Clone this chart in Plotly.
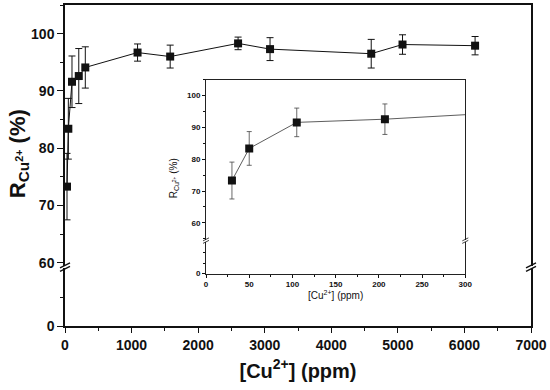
import plotly.graph_objects as go

# ---- data ----
conc = [30, 50, 105, 207, 305, 1090, 1580, 2600, 3080, 4600, 5070, 6160]
removal = [73.3, 83.4, 91.6, 92.6, 94.1, 96.7, 96.0, 98.3, 97.3, 96.5, 98.1, 97.9]
err = [5.8, 5.3, 4.5, 4.8, 3.6, 1.5, 2.0, 1.1, 2.0, 2.5, 1.7, 1.6]

main_xticks = [0, 1000, 2000, 3000, 4000, 5000, 6000, 7000]
main_yticks = [60, 70, 80, 90, 100]
inset_xticks = [0, 50, 100, 150, 200, 250, 300]
inset_yticks = [60, 70, 80, 90, 100]

FONT = "Arial, Liberation Sans, sans-serif"
BLACK = "#111111"

fig = go.Figure()

# empty traces so the lower (broken-off) axis segments are drawn
for xa, ya in (("x", "y"), ("x2", "y2"), ("x3", "y4"), ("x4", "y3")):
    fig.add_trace(go.Scatter(x=[None], y=[None], xaxis=xa, yaxis=ya, mode="markers",
                             showlegend=False, hoverinfo="skip"))

# main series
fig.add_trace(go.Scatter(
    x=conc, y=removal, xaxis="x", yaxis="y2", mode="lines+markers",
    line=dict(color=BLACK, width=1),
    marker=dict(symbol="square", size=8, color=BLACK),
    error_y=dict(type="data", array=err, visible=True, color=BLACK, thickness=1, width=3.5),
    showlegend=False, hoverinfo="x+y",
))
# inset series
fig.add_trace(go.Scatter(
    x=conc, y=removal, xaxis="x3", yaxis="y3", mode="lines+markers",
    line=dict(color="#333333", width=0.8),
    marker=dict(symbol="square", size=8, color=BLACK),
    error_y=dict(type="data", array=err, visible=True, color="#444444", thickness=0.8, width=2.5),
    showlegend=False, hoverinfo="x+y", cliponaxis=True,
))

tick_main = dict(family=FONT, size=14, color=BLACK, weight="bold")
tick_inset = dict(family=FONT, size=8, color=BLACK, weight="bold")

fig.update_layout(
    width=550, height=390,
    margin=dict(l=65, r=19, t=5, b=64, autoexpand=False),
    paper_bgcolor="white", plot_bgcolor="white",
    xaxis=dict(
        domain=[0, 1], anchor="y", range=[0, 7000],
        tickvals=main_xticks, ticks="outside", ticklen=5, tickwidth=1.3, tickcolor=BLACK,
        minor=dict(dtick=500, ticks="outside", ticklen=3, tickcolor=BLACK),
        showline=True, linecolor=BLACK, linewidth=1.5, showgrid=False, zeroline=False,
        tickfont=tick_main, automargin=False,
        title=dict(text="[Cu<sup>2+</sup>] (ppm)", font=dict(family=FONT, size=20, color=BLACK, weight="bold"), standoff=12),
    ),
    xaxis2=dict(
        domain=[0, 1], anchor="y2", side="top", matches="x", overlaying="x",
        showline=True, linecolor=BLACK, linewidth=1.5, ticks="", showticklabels=False,
        showgrid=False, zeroline=False, automargin=False,
    ),
    yaxis=dict(
        domain=[0, 0.180], anchor="x", range=[0, 10],
        tickvals=[0], ticks="outside", ticklen=6, tickwidth=1.3, tickcolor=BLACK,
        minor=dict(tickvals=[5], ticks="outside", ticklen=3, tickcolor=BLACK),
        showline=True, mirror=True, linecolor=BLACK, linewidth=1.5,
        showgrid=False, zeroline=False, tickfont=tick_main, automargin=False,
    ),
    yaxis2=dict(
        domain=[0.187, 1], anchor="x2", range=[59.45, 105],
        tickvals=main_yticks, ticks="outside", ticklen=6, tickwidth=1.3, tickcolor=BLACK,
        minor=dict(dtick=5, ticks="outside", ticklen=3, tickcolor=BLACK),
        showline=True, mirror=True, linecolor=BLACK, linewidth=1.5,
        showgrid=False, zeroline=False, tickfont=tick_main, automargin=False,
    ),
    xaxis3=dict(
        domain=[0.3026, 0.859], anchor="y4", range=[0, 300],
        tickvals=inset_xticks, ticks="outside", ticklen=3, tickcolor=BLACK,
        minor=dict(dtick=25, ticks="outside", ticklen=2, tickcolor=BLACK),
        showline=True, linecolor="#222222", linewidth=1, showgrid=False, zeroline=False,
        tickfont=tick_inset, automargin=False,
        title=dict(text="[Cu<sup>2+</sup>] (ppm)", font=dict(family=FONT, size=10, color=BLACK), standoff=3),
    ),
    xaxis4=dict(
        domain=[0.3026, 0.859], anchor="y3", side="top", matches="x3", overlaying="x3",
        showline=True, linecolor="#222222", linewidth=1, ticks="", showticklabels=False,
        showgrid=False, zeroline=False, automargin=False,
    ),
    yaxis3=dict(
        domain=[0.269, 0.767], anchor="x3", range=[54.7, 105],
        tickvals=inset_yticks, ticks="outside", ticklen=3, tickcolor=BLACK,
        minor=dict(dtick=5, ticks="outside", ticklen=2, tickcolor=BLACK),
        showline=True, mirror=True, linecolor="#222222", linewidth=1,
        showgrid=False, zeroline=False, tickfont=tick_inset, automargin=False,
    ),
    yaxis4=dict(
        domain=[0.163, 0.263], anchor="x3", range=[0, 10],
        tickvals=[0], ticks="outside", ticklen=3, tickcolor=BLACK,
        minor=dict(tickvals=[3.3, 6.6], ticks="outside", ticklen=2, tickcolor=BLACK),
        showline=True, mirror=True, linecolor="#222222", linewidth=1,
        showgrid=False, zeroline=False, tickfont=tick_inset, automargin=False,
    ),
)

# y titles as annotations (centered on full broken axis)
fig.add_annotation(
    text="R<sub>Cu<sup>2+</sup></sub> (%)", xref="paper", yref="paper", x=0, y=0.535,
    xshift=-62, textangle=-90, showarrow=False,
    font=dict(family=FONT, size=22, color=BLACK, weight="bold"),
)
fig.add_annotation(
    text="R<sub>Cu<sup>2+</sup></sub> (%)", xref="paper", yref="paper", x=0.3026, y=0.46,
    xshift=-40, textangle=-90, showarrow=False,
    font=dict(family=FONT, size=10, color=BLACK),
)

# axis-break marks
def brk(xpos, ypos, half_w, dy, gap, width):
    for off in (-gap / 2, gap / 2):
        fig.add_shape(
            type="line", xref="paper", yref="paper",
            xsizemode="pixel", ysizemode="pixel", xanchor=xpos, yanchor=ypos,
            x0=-half_w, x1=half_w, y0=off - dy, y1=off + dy,
            line=dict(color=BLACK, width=width),
        )

brk(0, 0.1835, 5, 2.5, 3.5, 1.3)
brk(1, 0.1835, 5, 2.5, 3.5, 1.3)
brk(0.3026, 0.266, 3, 1.5, 2.5, 0.8)
brk(0.859, 0.266, 3, 1.5, 2.5, 0.8)

fig.write_html("out.html", config={"displayModeBar": False},
               post_script="document.body.style.margin='0';")
